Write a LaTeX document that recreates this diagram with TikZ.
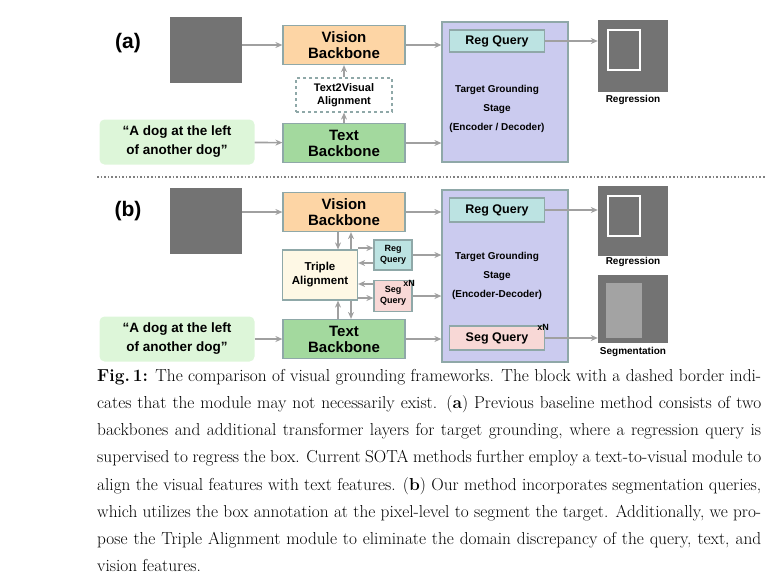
\documentclass[tikz,border=0pt]{standalone}
\usepackage{fontspec}
\newfontfamily\sansf{Liberation Sans}
\usetikzlibrary{positioning,calc,arrows.meta}
\definecolor{arrgray}{HTML}{A0A0A0}
\definecolor{edgegray}{HTML}{8FA8A8}
\definecolor{visfill}{HTML}{FDD5A5}
\definecolor{txtfill}{HTML}{A3D99E}
\definecolor{phrfill}{HTML}{DDF6D9}
\definecolor{tgfill}{HTML}{CBCBEF}
\definecolor{regfill}{HTML}{BCE3E2}
\definecolor{segfill}{HTML}{F8D8D6}
\definecolor{trifill}{HTML}{FEF8E5}
\begin{document}
\begin{tikzpicture}[x=1pt,y=-1pt,>={Stealth[length=7pt,width=6pt]},
  arr/.style={->,arrgray,line width=1.6pt},
  blk/.style={draw=edgegray,line width=1.2pt,font=\sansf\bfseries,align=center,inner sep=0pt},
  big/.style={blk,minimum width=122pt,minimum height=39pt,font=\sansf\bfseries\fontsize{15}{16}\selectfont},
  photo/.style={fill=black!55,draw=none,minimum width=72pt,minimum height=66pt,inner sep=0pt},
  phrase/.style={fill=phrfill,rounded corners=5pt,minimum width=155pt,minimum height=45pt,align=center,font=\sansf\bfseries\fontsize{13.5}{19}\selectfont},
  lab/.style={font=\sansf\bfseries\fontsize{10}{11}\selectfont}]
\useasboundingbox (0,0) rectangle (783,571);
% (a)
\node[font=\sansf\bfseries\fontsize{21}{22}\selectfont] (la) at (128,43) {(a)};
\node[photo] (pa) at (206,50) {};
\node[big,fill=visfill] (va) at (344,45) {Vision\\Backbone};
\node[blk,dashed,fill=white,minimum width=96pt,minimum height=34pt,font=\sansf\bfseries\fontsize{11}{13}\selectfont] (t2v) at (344,95) {Text2Visual\\Alignment};
\node[big,fill=txtfill] (ta) at (344,143) {Text\\Backbone};
\node[phrase] (sa) at (177,142) {“A dog at the left\\of another dog”};
\node[blk,fill=tgfill,minimum width=126pt,minimum height=140pt] (ga) at (505,92) {};
\node[blk,fill=regfill,minimum width=95pt,minimum height=22pt,font=\sansf\bfseries\fontsize{12.5}{13}\selectfont] (ra) at (497,41) {Reg Query};
\node[font=\sansf\bfseries\fontsize{10}{19}\selectfont,align=center] (gta) at (497,109) {Target Grounding\\Stage\\(Encoder / Decoder)};
\node[photo,minimum width=70pt,minimum height=72pt] (oa) at (633,56) {};
\draw[white,line width=1.5pt] (608,30) rectangle (640,70);
\node[lab] (oal) at (633,100) {Regression};
\draw[arr] (pa.east |- va.west) -- (va.west);
\draw[arr] (sa) -- (ta);
\draw[arr] (ta) -- (t2v);
\draw[arr] (t2v) -- (va);
\draw[arr] (va.east) -- (va.east -| ga.west);
\draw[arr] (ta.east) -- (ta.east -| ga.west);
\draw[arr] (ra.east) -- (oa.west |- ra.east);
% separator
\draw[black!50,line width=1.6pt,dotted] (97,177) -- (765,177);
% (b)
\node[font=\sansf\bfseries\fontsize{21}{22}\selectfont] (lb) at (128,211) {(b)};
\node[photo] (pb) at (206,221) {};
\node[big,fill=visfill] (vb) at (344,212) {Vision\\Backbone};
\node[blk,fill=trifill,minimum width=75pt,minimum height=50pt,font=\sansf\bfseries\fontsize{11.5}{14}\selectfont] (tri) at (320,275) {Triple\\Alignment};
\node[blk,fill=regfill,minimum width=38pt,minimum height=30pt,font=\sansf\bfseries\fontsize{9}{11}\selectfont] (rq) at (393,255) {Reg\\Query};
\node[blk,fill=segfill,minimum width=38pt,minimum height=31pt,font=\sansf\bfseries\fontsize{9}{11}\selectfont] (sq) at (393,296) {Seg\\Query};
\node[font=\sansf\bfseries\fontsize{9}{10}\selectfont] (sqn) at (409,283) {xN};
\node[big,fill=txtfill] (tb) at (344,339) {Text\\Backbone};
\node[phrase] (sb) at (177,339) {“A dog at the left\\of another dog”};
\node[blk,fill=tgfill,minimum width=126pt,minimum height=172pt] (gb) at (505,276) {};
\node[blk,fill=regfill,minimum width=95pt,minimum height=24pt,font=\sansf\bfseries\fontsize{12.5}{13}\selectfont] (rb) at (497,210) {Reg Query};
\node[blk,fill=segfill,minimum width=95pt,minimum height=24pt,font=\sansf\bfseries\fontsize{12.5}{13}\selectfont] (sgb) at (497,338) {Seg Query};
\node[font=\sansf\bfseries\fontsize{9}{10}\selectfont] (sgn) at (543,327) {xN};
\node[font=\sansf\bfseries\fontsize{10}{19}\selectfont,align=center] (gtb) at (497,276) {Target Grounding\\Stage\\(Encoder-Decoder)};
\node[photo,minimum width=70pt,minimum height=70pt] (ob) at (633,221) {};
\draw[white,line width=1.5pt] (608,196) rectangle (640,236);
\node[lab] (obl) at (633,262) {Regression};
\node[photo,minimum width=70pt,minimum height=68pt] (os) at (633,309) {};
\fill[white,opacity=0.35] (606,283) rectangle (642,338);
\node[lab] (osl) at (633,352) {Segmentation};
\draw[arr] (pb.east |- vb.west) -- (vb.west);
\draw[arr] (sb) -- (tb);
\draw[arr] ([xshift=-6pt]vb.south) -- ([xshift=-6pt]tri.north -| vb.south);
\draw[arr] ([xshift=7pt]tri.north -| vb.south) -- ([xshift=7pt]vb.south);
\draw[arr] ([xshift=-6pt]tb.north) -- ([xshift=-6pt]tri.south -| tb.north);
\draw[arr] ([xshift=7pt]tri.south -| tb.north) -- ([xshift=7pt]tb.north);
\draw[arr] (tri.east |- 0,248) -- (rq.west |- 0,248);
\draw[arr] (rq.west |- 0,263) -- (tri.east |- 0,263);
\draw[arr] (sq.west |- 0,284) -- (tri.east |- 0,284);
\draw[arr] (tri.east |- 0,298) -- (sq.west |- 0,298);
\draw[arr] (rq.east) -- (rq.east -| gb.west);
\draw[arr] (sq.east) -- (sq.east -| gb.west);
\draw[arr] (vb.east) -- (vb.east -| gb.west);
\draw[arr] (tb.east) -- (tb.east -| gb.west);
\draw[arr] (rb.east) -- (ob.west |- rb.east);
\draw[arr] (sgb.east) -- (os.west |- sgb.east);
% caption
\node[anchor=north west,text width=664pt,align=justify,inner sep=0pt,font=\fontsize{17.3}{27.2}\selectfont] (cap) at (97,369) {\textbf{Fig.\,1:} The comparison of visual grounding frameworks. The block with a dashed border indicates that the module may not necessarily exist. (\textbf{a}) Previous baseline method consists of two backbones and additional transformer layers for target grounding, where a regression query is supervised to regress the box. Current SOTA methods further employ a text-to-visual module to align the visual features with text features. (\textbf{b}) Our method incorporates segmentation queries, which utilizes the box annotation at the pixel-level to segment the target. Additionally, we propose the Triple Alignment module to eliminate the domain discrepancy of the query, text, and vision features.};
\end{tikzpicture}
\end{document}
